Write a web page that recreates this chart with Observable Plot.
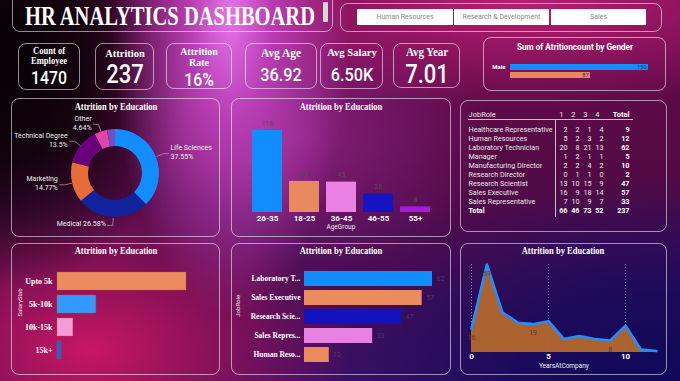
<!DOCTYPE html>
<html>
<head>
<meta charset="utf-8">
<script src="https://cdn.jsdelivr.net/npm/d3@7"></script>
<script src="https://cdn.jsdelivr.net/npm/@observablehq/plot@0.6"></script>
<style>
html, body { margin:0; padding:0; }
body {
  width:680px; height:381px; overflow:hidden; position:relative;
  font-family: Roboto, "Noto Sans", sans-serif; color:#fff;
  background:
    radial-gradient(ellipse 120px 300px at 230px 15px, rgba(230,115,235,1) 0%, rgba(205,75,205,0.75) 35%, rgba(165,40,165,0) 100%),
    radial-gradient(ellipse 190px 230px at 0px 60px, rgba(6,0,4,1) 0%, rgba(12,2,8,0.9) 45%, rgba(30,4,20,0) 100%),
    radial-gradient(ellipse 260px 160px at 90px 350px, rgba(200,22,100,1) 0%, rgba(172,18,86,0.7) 45%, rgba(150,15,75,0) 100%),
    radial-gradient(ellipse 330px 200px at 660px 381px, rgba(16,8,88,1) 0%, rgba(22,10,90,0.85) 45%, rgba(30,10,90,0) 100%),
    radial-gradient(ellipse 330px 110px at 520px 0px, rgba(185,30,115,1) 0%, rgba(160,22,105,0) 100%),
    radial-gradient(ellipse 190px 140px at 300px 140px, rgba(165,45,160,0.6) 0%, rgba(150,40,150,0) 100%),
    linear-gradient(180deg, #6a0a4c 0%, #520a44 45%, #3a1066 100%);
}
.box { position:absolute; box-sizing:border-box; border:1.2px solid rgba(255,255,255,0.55); border-radius:8px; }
.t { position:absolute; white-space:pre; text-align:center; line-height:1; }
.chart { position:absolute; }
.chart svg { overflow:visible; }
.btn { position:absolute; background:#fff; color:#8a8a8a; font:7px Roboto, sans-serif; display:flex; align-items:center; justify-content:center; }
</style>
</head>
<body>
<script>
// ---------------- data ----------------
const departments = ["Human Resources", "Research & Development", "Sales"];

const kpiLabels = ["Count of\nEmployee", "Attrition", "Attrition\nRate", "Avg Age", "Avg Salary", "Avg Year"];
const kpiValues = ["1470", "237", "16%", "36.92", "6.50K", "7.01"];

const genders = ["Male", "Female"];
const genderAttrition = [150, 87];
const genderColors = ["#118DFF", "#E8875A"];

const eduFields = ["Life Sciences", "Medical", "Marketing", "Technical Degree", "Other", "Human Resources"];
const eduShares = [37.55, 26.58, 14.77, 13.5, 4.64, 2.96];
const eduColors = ["#118DFF", "#12239E", "#E66C37", "#6B007B", "#E044A7", "#744EC2"];

const ageGroups = ["26-35", "18-25", "36-45", "46-55", "55+"];
const ageAttrition = [116, 44, 43, 26, 8];
const ageColors = ["#118DFF", "#E98A5E", "#E981E2", "#1414C4", "#A51BDD"];

const jobRoles = ["Healthcare Representative", "Human Resources", "Laboratory Technician", "Manager",
  "Manufacturing Director", "Research Director", "Research Scientist", "Sales Executive", "Sales Representative"];
const satisfactionLevels = [1, 2, 3, 4];
const jobRoleCounts = [
  [2, 2, 1, 4], [5, 2, 3, 2], [20, 8, 21, 13], [1, 2, 1, 1], [2, 2, 4, 2],
  [0, 1, 1, 0], [13, 10, 15, 9], [16, 9, 18, 14], [7, 10, 9, 7]
];

const salarySlabs = ["Upto 5k", "5k-10k", "10k-15k", "15k+"];
const salaryAttrition = [163, 49, 20, 5];
const salaryColors = ["#EC8B5E", "#3399FF", "#F19ED8", "#1466D6"];

const topJobRoles = ["Laboratory Technician", "Sales Executive", "Research Scientist", "Sales Representative", "Human Resources"];
const topJobRoleTickLabels = ["Laboratory T...", "Sales Executive", "Research Scie...", "Sales Repres...", "Human Reso..."];
const topJobRoleAttrition = [62, 57, 47, 33, 12];
const topJobRoleColors = ["#118DFF", "#EC8B5E", "#1212BE", "#E981E2", "#EC8A5C"];

const yearsAtCompany = [0, 1, 2, 3, 4, 5, 6, 7, 8, 9, 10, 11, 12];
const attritionByYears = [16, 59, 27, 20, 19, 21, 9, 11, 9, 8, 18, 2, 1];
const yearsLabelled = [0, 1, 4, 9];

// ---------------- helpers ----------------
function div(cls, x, y, w, h) {
  const d = document.createElement("div");
  d.className = cls;
  Object.assign(d.style, {left: x + "px", top: y + "px", width: w + "px", height: h + "px"});
  document.body.appendChild(d);
  return d;
}
function text(str, cx, cy, o = {}) {
  const d = document.createElement("div");
  d.className = "t";
  d.textContent = str;
  const size = o.size || 10;
  Object.assign(d.style, {
    left: cx + "px", top: cy + "px",
    fontFamily: o.family || "Roboto, sans-serif",
    fontSize: size + "px",
    fontWeight: o.weight || "normal",
    color: o.color || "#fff",
    lineHeight: (o.lh || size) + "px",
    transform: `translate(-50%,-50%) scaleX(${o.sx || 1})`
  });
  (o.parent || document.body).appendChild(d);
  return d;
}
function place(node, x, y) {
  const w = document.createElement("div");
  w.className = "chart";
  w.style.left = x + "px"; w.style.top = y + "px";
  w.appendChild(node);
  document.body.appendChild(w);
}
const SERIF = '"Liberation Serif", "DejaVu Serif", serif';
const baseStyle = {background: "transparent", color: "#fff", fontFamily: "Roboto, sans-serif", fontSize: "7px", overflow: "visible"};

// ---------------- header ----------------
div("box", 12, -8, 321, 40);
text("HR ANALYTICS DASHBOARD", 170, 16, {family: SERIF, weight: "bold", size: 27, sx: 0.76});
const bar = div("", 323, 2, 5, 20);
Object.assign(bar.style, {position: "absolute", background: "#d8d8d8", borderRadius: "1px"});

div("box", 340, 3, 322, 29);
const btnX = [357, 454, 551], btnW = [96, 95, 95];
departments.forEach((d, i) => { const b = div("btn", btnX[i], 9, btnW[i], 16); b.textContent = d; });

// ---------------- KPI cards ----------------
const kpiLayout = [
  {x: 18, y: 43, w: 62, h: 47, ty: 56, ts: 9.5, tlh: 10, tsx: 0.9, vy: 77.5, vs: 18},
  {x: 95, y: 43, w: 59, h: 47, ty: 53, ts: 11, tsx: 0.95, vy: 74, vs: 25},
  {x: 166, y: 43, w: 66, h: 46, ty: 57, ts: 10.5, tlh: 11, tsx: 0.95, vy: 79.5, vs: 18},
  {x: 245, y: 43, w: 72, h: 46, ty: 53, ts: 12, tsx: 0.95, vy: 75, vs: 18.5},
  {x: 320, y: 43, w: 63, h: 46, ty: 53, ts: 11.2, tsx: 0.95, vy: 74.5, vs: 18.5},
  {x: 393, y: 43, w: 67, h: 45, ty: 53, ts: 11.5, tsx: 0.95, vy: 74, vs: 25}
];
kpiLabels.forEach((lab, i) => {
  const L = kpiLayout[i];
  div("box", L.x, L.y, L.w, L.h);
  const cx = L.x + L.w / 2;
  text(lab, cx, L.ty, {family: SERIF, weight: "bold", size: L.ts, lh: L.tlh, sx: L.tsx});
  text(kpiValues[i], cx, L.vy, {size: L.vs, weight: 500, sx: 0.88});
});

// ---------------- gender ----------------
div("box", 483, 37, 183, 54);
text("Sum of Atritioncount by Gender", 575, 47, {size: 8.2, weight: "bold"});
const genderData = genders.map((g, i) => ({g, v: genderAttrition[i]}));
place(Plot.plot({
  width: 180, height: 24, marginLeft: 26, marginRight: 16, marginTop: 4, marginBottom: 2,
  style: baseStyle,
  x: {domain: [0, d3.max(genderAttrition)], axis: null},
  y: {domain: genders, padding: 0.25, axis: null},
  color: {domain: genders, range: genderColors},
  marks: [
    Plot.barX(genderData, {y: "g", x: "v", fill: "g"}),
    Plot.text(genderData, {y: "g", x: "v", text: "v", textAnchor: "end", dx: -2, fontSize: 5.5, fill: "#2a2a70"}),
    Plot.text([genders[0]], {y: d => d, frameAnchor: "left", textAnchor: "end", dx: -5, fontSize: 6, fontWeight: "bold", fill: "#fff"})
  ]
}), 484, 58);

// ---------------- panels ----------------
const panels = [[11, 98, 209, 139], [231, 98, 220, 139], [460, 100, 207, 132], [11, 243, 209, 132], [231, 243, 220, 132], [460, 243, 207, 132]];
panels.forEach(p => div("box", ...p));
const titleOpts = {family: SERIF, weight: "bold", size: 10, sx: 0.85};
[[116, 107], [341, 107], [116, 251], [341, 251], [563, 251]].forEach(([x, y]) => text("Attrition by Education", x, y, titleOpts));

// ---- donut ----
const R_OUT = 44, R_IN = 27;
const eduData = eduFields.map((f, i) => ({field: f, share: eduShares[i]}));
const pie = d3.pie().sort(null).value(d => d.share)(eduData);
const eduColor = Plot.scale({color: {domain: eduFields, range: eduColors}});
const eduLabels = pie.filter(p => p.data.share >= 3).map(p => {
  const a = (p.startAngle + p.endAngle) / 2, s = Math.sin(a), c = -Math.cos(a);
  const side = s >= 0 ? 1 : -1;
  const p1 = [s * (R_OUT + 1), c * (R_OUT + 1)], p2 = [s * (R_OUT + 8), c * (R_OUT + 8)], p3 = [p2[0] + side * 5, p2[1]];
  const single = Math.abs(s) < 0.3;
  return {
    pts: [p1, p2, p3].map(q => ({x: q[0], y: q[1], k: p.data.field})),
    side, x: p3[0] + side * 2, y: p3[1] - 2,
    label: single ? `${p.data.field} ${p.data.share}%` : `${p.data.field}\n${p.data.share}%`
  };
});
function donutArcs(index, scales, values, dims) {
  const cx = scales.x ? scales.x(0) : dims.width / 2, cy = scales.y ? scales.y(0) : dims.height / 2;
  const arc = d3.arc().innerRadius(R_IN).outerRadius(R_OUT);
  const g = d3.create("svg:g").attr("transform", `translate(${cx},${cy})`);
  g.selectAll("path").data(pie).join("path").attr("d", arc).attr("fill", d => eduColor.apply(d.data.field));
  return g.node();
}
place(Plot.plot({
  width: 209, height: 125, margin: 0, style: baseStyle,
  x: {domain: [-104, 105], range: [0, 209], axis: null},
  y: {domain: [-61, 64], range: [0, 125], axis: null},
  marks: [
    donutArcs,
    Plot.line(eduLabels.flatMap(d => d.pts), {x: "x", y: "y", z: "k", stroke: "#b9a3b5", strokeWidth: 0.7}),
    Plot.text(eduLabels.filter(d => d.side > 0), {x: "x", y: "y", text: "label", textAnchor: "start", fill: "#eee", fontSize: 7, lineHeight: 1.3}),
    Plot.text(eduLabels.filter(d => d.side < 0), {x: "x", y: "y", text: "label", textAnchor: "end", fill: "#eee", fontSize: 7, lineHeight: 1.3})
  ]
}), 11, 112);

// ---- age group bars ----
const ageData = ageGroups.map((g, i) => ({g, v: ageAttrition[i]}));
place(Plot.plot({
  width: 220, height: 139, marginLeft: 12.5, marginRight: 13.7, marginTop: 32, marginBottom: 25,
  style: baseStyle,
  x: {domain: ageGroups, padding: 0.2, axis: null},
  y: {domain: [0, d3.max(ageAttrition)], axis: null},
  color: {domain: ageGroups, range: ageColors},
  marks: [
    Plot.barY(ageData, {x: "g", y: "v", fill: "g"}),
    Plot.text(ageData, {x: "g", y: "v", text: "v", dy: -7, fill: "#5a4a5a", fontSize: 7}),
    Plot.axisX({tickSize: 0, tickPadding: 3, fontSize: 8, fontWeight: "bold", label: null}),
    Plot.text(["AgeGroup"], {frameAnchor: "bottom", dy: 16, fontSize: 6.5, fill: "#eee"})
  ]
}), 231, 98);

// ---- table ----
const tableRows = [...jobRoles, "Total"];
const levelTotals = satisfactionLevels.map((l, j) => d3.sum(jobRoleCounts, r => r[j]));
const roleTotals = jobRoleCounts.map(r => d3.sum(r));
const cells = jobRoles.flatMap((role, i) => satisfactionLevels.map((lvl, j) => ({role, lvl, v: jobRoleCounts[i][j]})));
const totalCells = satisfactionLevels.map((lvl, j) => ({role: "Total", lvl, v: levelTotals[j]}));
const totalCol = [...jobRoles.map((role, i) => ({role, v: roleTotals[i]})), {role: "Total", v: d3.sum(roleTotals)}];
place(Plot.plot({
  width: 207, height: 132, marginLeft: 8, marginRight: 35, marginTop: 19, marginBottom: 15,
  style: baseStyle,
  x: {domain: [1, 4], range: [107, 143], axis: null},
  y: {type: "point", domain: tableRows, range: [26, 112], padding: 0, axis: null},
  marks: [
    Plot.frame({anchor: "top", stroke: "#c8bcc8", strokeWidth: 1}),
    Plot.ruleX([0], {stroke: "#c8bcc8", strokeWidth: 1}),
    Plot.text(["JobRole"], {frameAnchor: "top-left", dy: -8, textAnchor: "start", fill: "#e8e8e8", fontSize: 7.5}),
    Plot.text(satisfactionLevels, {x: d => d, frameAnchor: "top", dy: -8, dx: -4, textAnchor: "end", fill: "#e8e8e8", fontSize: 7.5}),
    Plot.text(["Total"], {frameAnchor: "top-right", dx: -3, dy: -8, textAnchor: "end", fill: "#fff", fontSize: 7.5, fontWeight: "bold"}),
    Plot.text(jobRoles, {y: d => d, frameAnchor: "left", textAnchor: "start", fill: "#e8e8e8", fontSize: 7.2}),
    Plot.text(["Total"], {y: d => d, frameAnchor: "left", textAnchor: "start", fill: "#fff", fontSize: 7.2, fontWeight: "bold"}),
    Plot.text(cells, {x: "lvl", y: "role", text: "v", textAnchor: "end", fill: "#e8e8e8", fontSize: 7.2}),
    Plot.text(totalCells, {x: "lvl", y: "role", text: "v", textAnchor: "end", fill: "#fff", fontSize: 7.2, fontWeight: "bold"}),
    Plot.text(totalCol, {y: "role", text: "v", frameAnchor: "right", dx: -3, textAnchor: "end", fill: "#fff", fontSize: 7.2, fontWeight: "bold"})
  ]
}), 460, 100);

// ---- salary slab ----
const salaryData = salarySlabs.map((s, i) => ({s, v: salaryAttrition[i]}));
place(Plot.plot({
  width: 209, height: 132, marginLeft: 46, marginRight: 34, marginTop: 23.3, marginBottom: 9.3,
  style: baseStyle,
  x: {domain: [0, d3.max(salaryAttrition)], axis: null},
  y: {domain: salarySlabs, padding: 0.2, axis: null},
  color: {domain: salarySlabs, range: salaryColors},
  marks: [
    Plot.barX(salaryData, {y: "s", x: "v", fill: "s", stroke: "#b0603a", strokeOpacity: 0.35}),
    Plot.axisY({tickSize: 0, tickPadding: 5, fontSize: 8, fontWeight: "bold", fontFamily: SERIF, label: null}),
    Plot.text(["SalarySlab"], {frameAnchor: "left", dx: -37, rotate: -90, fontSize: 6, fill: "#eee"})
  ]
}), 11, 243);

// ---- job role bars ----
const topData = topJobRoles.map((r, i) => ({r, v: topJobRoleAttrition[i]}));
place(Plot.plot({
  width: 220, height: 132, marginLeft: 73, marginRight: 19, marginTop: 23.15, marginBottom: 8.75,
  style: baseStyle,
  x: {domain: [0, d3.max(topJobRoleAttrition)], axis: null},
  y: {domain: topJobRoles, padding: 0.2, axis: null},
  color: {domain: topJobRoles, range: topJobRoleColors},
  marks: [
    Plot.barX(topData, {y: "r", x: "v", fill: "r"}),
    Plot.text(topData, {y: "r", x: "v", text: "v", dx: 4, textAnchor: "start", fill: "#4a3a6a", fontSize: 7}),
    Plot.axisY({tickSize: 0, tickPadding: 4, fontSize: 7.5, fontWeight: "bold", fontFamily: SERIF, label: null,
      tickFormat: d => topJobRoleTickLabels[topJobRoles.indexOf(d)]}),
    Plot.text(["JobRole"], {frameAnchor: "left", dx: -66, rotate: -90, fontSize: 6, fill: "#eee"})
  ]
}), 231, 243);

// ---- years at company area ----
const yearsData = yearsAtCompany.map((y, i) => ({y, v: attritionByYears[i]}));
place(Plot.plot({
  width: 207, height: 132, marginLeft: 11, marginRight: 11.2, marginTop: 21, marginBottom: 23,
  style: baseStyle,
  x: {domain: [0, d3.max(yearsAtCompany)], axis: null},
  y: {domain: [0, d3.max(attritionByYears)], axis: null},
  marks: [
    Plot.gridX([0, 5, 10], {stroke: "#b0b0c8", strokeOpacity: 0.7, strokeDasharray: "1,2"}),
    Plot.areaY(yearsData, {x: "y", y: "v", fill: "#B2672C", fillOpacity: 0.95}),
    Plot.lineY(yearsData, {x: "y", y: "v", stroke: "#1E90FF", strokeWidth: 2.6}),
    Plot.text(yearsData.filter(d => yearsLabelled.includes(d.y)), {x: "y", y: "v", text: "v", dy: 9, fill: "#5e3e2a", fontSize: 7}),
    Plot.axisX({ticks: [0, 5, 10], tickSize: 0, tickPadding: 1, fontSize: 8, fontWeight: "bold", label: null}),
    Plot.text(["YearsAtCompany"], {frameAnchor: "bottom", dy: 15, fontSize: 6.5, fill: "#eee"})
  ]
}), 460, 243);
</script>
</body>
</html>
